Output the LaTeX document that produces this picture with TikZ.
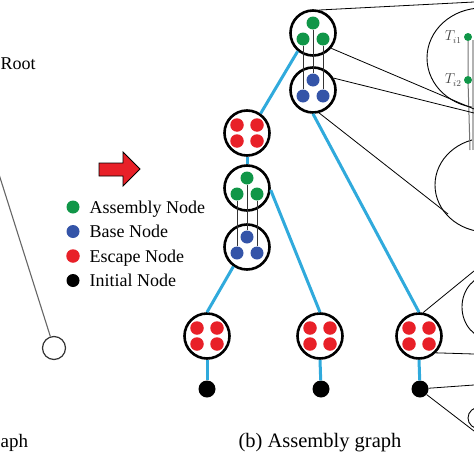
\documentclass[tikz,border=0pt]{standalone}
\usepackage{fontspec}
\setmainfont{Liberation Serif}
\usepackage{xcolor}
\usepackage{tikz}
\usetikzlibrary{calc}

\definecolor{asmgreen}{RGB}{16,150,72}
\definecolor{basblue}{RGB}{52,84,168}
\definecolor{escred}{RGB}{232,32,40}
\definecolor{linkblue}{RGB}{48,170,220}

\begin{document}
\begin{tikzpicture}[x=1pt, y=-1pt, font=\fontsize{18}{20}\selectfont,
  grp/.style={circle, draw=black, line width=2.6pt, minimum size=45pt, inner sep=0pt},
  adot/.style={circle, fill=asmgreen, minimum size=13pt, inner sep=0pt},
  bdot/.style={circle, fill=basblue, minimum size=13pt, inner sep=0pt},
  edot/.style={circle, fill=escred, minimum size=13.5pt, inner sep=0pt},
  idot/.style={circle, fill=black, minimum size=17pt, inner sep=0pt},
  link/.style={linkblue, line width=3pt},
  tie/.style={black!80, line width=0.9pt},
  zoomln/.style={black, line width=0.8pt}]
  \useasboundingbox (0,0) rectangle (474,474);
  \clip (0,0) rectangle (474,474);
  % left part: tail of the tree
  \node[anchor=base west, inner sep=0.5pt] (rootlbl) at (0,69) {Root};
  \node[circle, draw=black!80, line width=1.2pt, minimum size=23pt, inner sep=0pt] (leaf) at (54,348) {};
  \coordinate (tail) at (-3,168);
  \draw[black!60, line width=1.1pt] (tail) -- (leaf);
  \node[anchor=base west, inner sep=0.5pt, font=\fontsize{19}{22}\selectfont] (capa) at (0,447) {aph};
  % red block arrow
  \draw[fill=escred, line width=0.9pt] (99,163) -- (123,163) -- (123,152) -- (140,169)
        -- (123,186) -- (123,176) -- (99,176) -- cycle;
  % legend
  \node[adot] (lg1) at (73,207) {};
  \node[bdot] (lg2) at (73,231.5) {};
  \node[edot] (lg3) at (73,256) {};
  \node[circle, fill=black, minimum size=13pt, inner sep=0pt] (lg4) at (73,280.5) {};
  \node[anchor=base west] (lt1) at (86,213) {Assembly Node};
  \node[anchor=base west] (lt2) at (86,237.5) {Base Node};
  \node[anchor=base west] (lt3) at (86,262) {Escape Node};
  \node[anchor=base west] (lt4) at (86,286.5) {Initial Node};
  % assembly graph: groups of nodes
  \node[grp] (a1) at (313,33) {};
  \node[grp] (b1) at (313,90) {};
  \node[grp] (r1) at (247,133) {};
  \node[grp] (a2) at (247,188) {};
  \node[grp] (b2) at (247,247) {};
  \node[grp] (r3) at (207,336) {};
  \node[grp] (r4) at (320,336) {};
  \node[grp] (r5) at (419,336) {};
  \node[idot] (i3) at (207,389) {};
  \node[idot] (i4) at (321,389) {};
  \node[idot] (i5) at (420,389) {};
  % dots inside the groups
  \foreach \g/\c in {a1/adot, a2/adot, b1/bdot, b2/bdot} {
    \node[\c] (\g-t) at ([shift={(0,-10)}]\g) {};
    \node[\c] (\g-l) at ([shift={(-10,6)}]\g) {};
    \node[\c] (\g-r) at ([shift={(10,6)}]\g) {};
  }
  \foreach \g in {r1,r3,r4,r5}
    \foreach \dx/\dy [count=\k] in {-10/-8, 10/-8, -10/8, 10/8}
      \node[edot] (\g-\k) at ([shift={(\dx,\dy)}]\g) {};
  % assembly node tied to its base node
  \foreach \u/\v in {a1/b1, a2/b2}
    \foreach \p in {t,l,r}
      \draw[tie] (\u-\p) -- (\v-\p);
  % graph edges
  \draw[link] (a1.-130) -- (r1.55);
  \draw[link] (r1.south) -- (a2.north);
  \draw[link] (b1.south) -- (r5.north);
  \draw[link] (a2.-5) -- (r4.north);
  \draw[link] (b2.-125) -- (r3.north);
  \foreach \k in {3,4,5}
    \draw[link] (r\k.south) -- (i\k);
  \node[anchor=base, font=\fontsize{20.5}{23}\selectfont] (capb) at (320,447) {(b) Assembly graph};
  % right part: zoomed views (cut by the frame)
  \draw[line width=0.9pt] (482,58) ellipse [x radius=55, y radius=50];
  \draw[line width=0.9pt] (487,185) ellipse [x radius=52, y radius=47];
  \draw[line width=0.9pt] (490,307) ellipse [x radius=28, y radius=32];
  \draw[line width=0.9pt] (480,418) ellipse [x radius=12, y radius=11];
  \node[anchor=east, black!75, font=\fontsize{13.5}{14}\selectfont] (ti1lbl) at (465,37) {$T_{i1}$};
  \node[anchor=east, black!75, font=\fontsize{13.5}{14}\selectfont] (ti2lbl) at (465,80) {$T_{i2}$};
  \node[circle, fill=asmgreen, minimum size=8pt, inner sep=0pt] (ti1) at (468,37) {};
  \node[circle, fill=asmgreen, minimum size=8pt, inner sep=0pt] (ti2) at (468,80) {};
  \coordinate (gbot) at (470,150);
  \draw[black!55, line width=1pt] (ti1) -- (ti2) -- (gbot);
  \draw[black!30, line width=2pt] (473,40) -- (473,150);
  \coordinate (e1a) at (474,2);
  \coordinate (e1b) at (474,109);
  \coordinate (e1c) at (474,113);
  \coordinate (e2a) at (448,214);
  \coordinate (e3a) at (474,271);
  \coordinate (e3b) at (474,354);
  \coordinate (e4a) at (474,385);
  \coordinate (e4b) at (474,431);
  \draw[zoomln] (a1.75) -- (e1a);
  \draw[zoomln] (a1.-40) -- (e1b);
  \draw[zoomln] (b1.30) -- (e1c);
  \draw[zoomln] (b1.-75) -- (e2a);
  \draw[zoomln] (r5.80) -- (e3a);
  \draw[zoomln] (r5.-45) -- (e3b);
  \draw[zoomln] (i5.5) -- (e4a);
  \draw[zoomln] (i5.-40) -- (e4b);
\end{tikzpicture}
\end{document}
